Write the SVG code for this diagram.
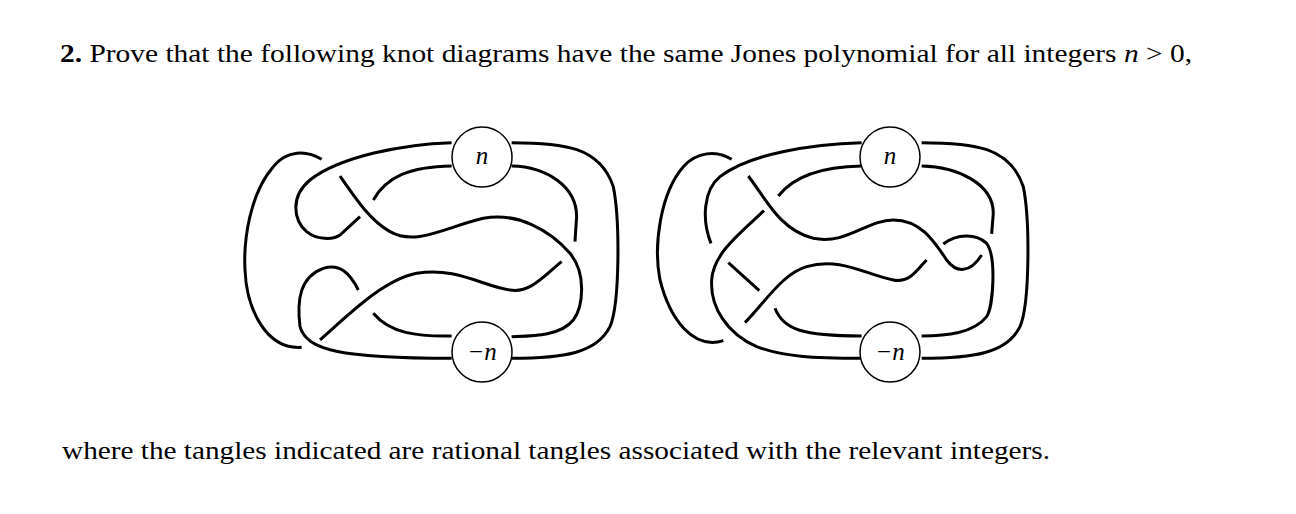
<svg xmlns="http://www.w3.org/2000/svg" width="1296" height="514" viewBox="0 0 1296 514">
<style>
.s{fill:none;stroke:#000;stroke-width:9;stroke-linecap:butt}
.c{fill:#fff;stroke:#000;stroke-width:1.5}
.t{font-family:"Liberation Serif",serif;font-size:25px;fill:#000}
.m{font-family:"Liberation Serif",serif;font-style:italic;font-size:25px;fill:#000;text-anchor:middle}
</style>
<rect width="1296" height="514" fill="#fff"/>
<text class="t" x="60" y="62" textLength="1132" lengthAdjust="spacingAndGlyphs"><tspan font-weight="bold">2.</tspan> Prove that the following knot diagrams have the same Jones polynomial for all integers <tspan font-style="italic">n</tspan> &gt; 0,</text>
<text class="t" x="62" y="459" textLength="988" lengthAdjust="spacingAndGlyphs">where the tangles indicated are rational tangles associated with the relevant integers.</text>
<g id="connectors">
<g id="knot1" transform="translate(230,120) scale(0.3333)">
<path class="s" d="M665,68 C520,72 330,110 240,180 C180,230 190,300 230,335 C260,360 310,360 330,345 L390,290"/>
<path class="s" d="M275,118 C230,90 170,90 130,140 C60,220 40,360 45,450 C50,570 110,690 215,682"/>
<path class="s" d="M330,168 C380,240 420,300 480,335 C560,380 650,320 760,295 C860,275 960,330 1020,400 C1070,460 1060,560 1030,600 C990,650 900,648 845,650"/>
<path class="s" d="M430,240 C470,170 540,140 665,138"/>
<path class="s" d="M845,138 C950,140 1040,200 1040,290 L1035,365"/>
<path class="s" d="M845,68 C1000,68 1110,80 1150,200 C1170,300 1170,550 1140,620 C1100,700 1000,715 845,715"/>
<path class="s" d="M995,425 C940,470 900,520 840,510 C760,500 680,440 560,460 C460,480 360,580 270,660"/>
<path class="s" d="M385,510 C360,460 330,430 280,445 C210,470 200,540 210,620 C230,690 330,715 665,715"/>
<path class="s" d="M430,580 C480,640 560,650 665,648"/>
</g>
<g id="knot2" transform="translate(640,120) scale(0.3333)">
<path class="s" d="M665,68 C520,72 330,100 240,170 C190,210 185,300 213,370"/>
<path class="s" d="M275,118 C230,90 170,95 130,140 C60,220 40,380 60,480 C90,600 160,690 250,662"/>
<path class="s" d="M325,168 C380,240 420,330 520,355 C620,375 680,300 760,300 C840,300 880,360 920,420 C950,460 990,460 1025,405"/>
<path class="s" d="M415,228 C460,170 540,140 665,138"/>
<path class="s" d="M845,138 C950,140 1060,190 1060,280 L1055,342"/>
<path class="s" d="M845,68 C1000,68 1110,80 1150,200 C1170,300 1170,550 1140,620 C1100,700 1000,715 845,715"/>
<path class="s" d="M860,420 C830,450 810,490 760,480 C680,465 600,410 500,440 C430,460 380,540 315,608"/>
<path class="s" d="M372,272 C300,340 220,400 215,480 C210,560 260,640 350,680 C430,710 520,715 665,715"/>
<path class="s" d="M265,428 L358,512"/>
<path class="s" d="M405,565 C430,630 490,648 665,648"/>
<path class="s" d="M910,372 C950,340 1010,340 1040,370 C1070,410 1060,560 1040,590 C1000,640 920,648 845,648"/>
</g>
</g>
<g id="n1"><circle class="c" cx="482" cy="157" r="30"/><text class="m" x="482" y="164">n</text></g>
<g id="mn1"><circle class="c" cx="482" cy="352" r="30"/><text class="m" x="482" y="360">−n</text></g>
<g id="n2"><circle class="c" cx="890" cy="157" r="30"/><text class="m" x="890" y="164">n</text></g>
<g id="mn2"><circle class="c" cx="890" cy="352" r="30"/><text class="m" x="890" y="360">−n</text></g>
</svg>
